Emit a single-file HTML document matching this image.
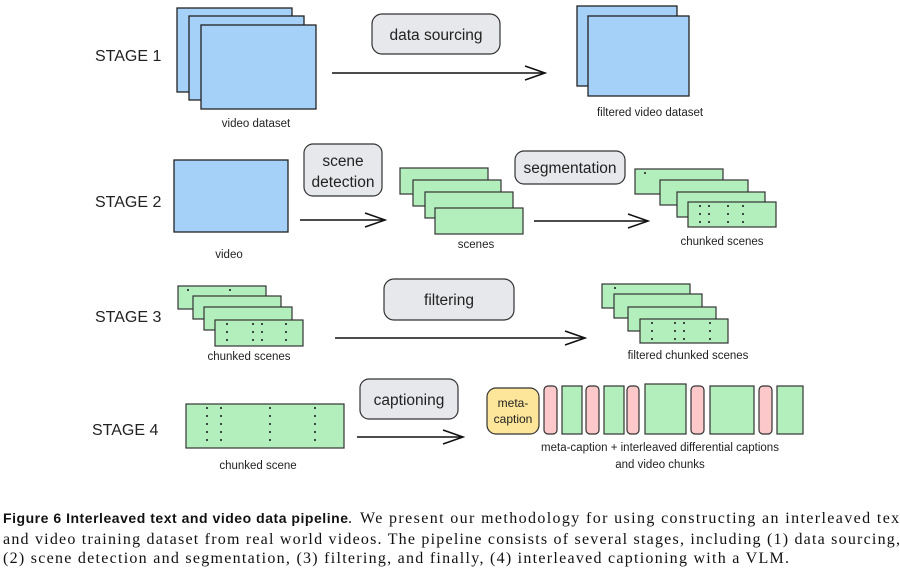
<!DOCTYPE html>
<html><head><style>
body{margin:0;background:#fff;width:900px;height:570px;overflow:hidden}
svg text{font-family:"Liberation Sans","DejaVu Sans",sans-serif;fill:#222}
svg text.s{font-family:"Liberation Serif",serif;fill:#111;font-size:16px}
svg text.b{font-weight:bold;fill:#111;font-size:14px}
</style></head><body>
<svg width="900" height="570" style="position:absolute;left:0;top:0">
<defs>
<marker id="a" markerWidth="24" markerHeight="16" refX="22" refY="8" orient="auto" markerUnits="userSpaceOnUse"><path d="M2,1 L22,8 L2,15" fill="none" stroke="#111" stroke-width="1.6"/></marker>
</defs>
<g font-size="16">
<text x="95" y="61">STAGE 1</text><text x="95" y="207">STAGE 2</text><text x="95" y="322">STAGE 3</text><text x="92" y="435">STAGE 4</text>
</g>
<g fill="#a5d0f8" stroke="#222" stroke-width="1.3">
<rect x="177" y="8" width="115" height="84"/><rect x="189" y="16" width="115" height="84"/><rect x="201" y="25" width="115" height="84"/>
<rect x="577" y="6" width="100" height="80"/><rect x="588" y="16" width="101" height="80"/>
<rect x="174" y="160" width="114" height="72"/>
</g>
<g font-size="11.5" text-anchor="middle">
<text x="256" y="127">video dataset</text><text x="650" y="116">filtered video dataset</text>
<text x="229" y="258">video</text><text x="476" y="248">scenes</text><text x="722" y="245">chunked scenes</text>
<text x="249" y="360">chunked scenes</text><text x="688" y="359">filtered chunked scenes</text>
<text x="258" y="469">chunked scene</text>
<text x="660" y="451">meta-caption + interleaved differential captions</text><text x="660" y="468">and video chunks</text>
</g>
<g fill="#e6e8eb" stroke="#333" stroke-width="1.2">
<rect x="372" y="14" width="128" height="40" rx="10"/>
<rect x="304" y="144" width="78" height="52" rx="9"/>
<rect x="515" y="151" width="110" height="33" rx="9"/>
<rect x="384" y="279" width="130" height="41" rx="10"/>
<rect x="360" y="379" width="98" height="40" rx="9"/>
</g>
<g font-size="15.5" text-anchor="middle">
<text x="436" y="40">data sourcing</text>
<text x="343" y="166">scene</text><text x="343" y="187">detection</text>
<text x="570" y="173">segmentation</text>
<text x="449" y="305">filtering</text>
<text x="409" y="405">captioning</text>
</g>
<g stroke="#111" stroke-width="1.6" marker-end="url(#a)">
<line x1="332" y1="73" x2="545" y2="73"/>
<line x1="300" y1="220" x2="385" y2="220"/>
<line x1="534" y1="221" x2="648" y2="221"/>
<line x1="335" y1="338" x2="585" y2="338"/>
<line x1="357" y1="437" x2="463" y2="437"/>
</g>
<g fill="#b2efbc" stroke="#333" stroke-width="1.2">
<rect x="400" y="168" width="88" height="26"/><rect x="413" y="180" width="88" height="26"/><rect x="425" y="192" width="88" height="26"/><rect x="435" y="208" width="88" height="26"/>
<rect x="635" y="169" width="88" height="25"/><rect x="660" y="180" width="88" height="25"/><rect x="677" y="192" width="88" height="25"/><rect x="688" y="202" width="88" height="25"/>
<rect x="178" y="286" width="88" height="23"/><rect x="193" y="296" width="88" height="23"/><rect x="204" y="307" width="88" height="23"/><rect x="215" y="320" width="88" height="26"/>
<rect x="602" y="284" width="88" height="24"/><rect x="614" y="294" width="88" height="24"/><rect x="628" y="307" width="88" height="24"/><rect x="640" y="319" width="88" height="24"/>
<rect x="186" y="404" width="158" height="44"/>
</g>
<g stroke="#111" stroke-width="1.5" stroke-dasharray="2,6">
<line x1="700" y1="205" x2="700" y2="226"/><line x1="709" y1="205" x2="709" y2="226"/><line x1="728" y1="205" x2="728" y2="226"/><line x1="743" y1="205" x2="743" y2="226"/>
<line x1="227" y1="323" x2="227" y2="345"/><line x1="253" y1="323" x2="253" y2="345"/><line x1="262" y1="323" x2="262" y2="345"/><line x1="286" y1="323" x2="286" y2="345"/>
<line x1="652" y1="322" x2="652" y2="342"/><line x1="675" y1="322" x2="675" y2="342"/><line x1="684" y1="322" x2="684" y2="342"/><line x1="710" y1="322" x2="710" y2="342"/>
<line x1="207" y1="407" x2="207" y2="447"/><line x1="221" y1="407" x2="221" y2="447"/><line x1="270" y1="407" x2="270" y2="447"/><line x1="315" y1="407" x2="315" y2="447"/>
<line x1="188" y1="289" x2="188" y2="296"/><line x1="230" y1="289" x2="230" y2="296"/><line x1="615" y1="287" x2="615" y2="294"/><line x1="645" y1="172" x2="645" y2="180"/>
</g>
<rect x="487" y="388" width="52" height="46" rx="9" fill="#fde69a" stroke="#333" stroke-width="1.2"/>
<text x="513" y="407" font-size="12" text-anchor="middle">meta-</text><text x="513" y="423" font-size="12" text-anchor="middle">caption</text>
<g fill="#fdc8ca" stroke="#333" stroke-width="1.2">
<rect x="544" y="386" width="13" height="48" rx="4"/><rect x="586" y="386" width="13" height="48" rx="4"/><rect x="627" y="386" width="12" height="48" rx="4"/><rect x="691" y="386" width="13" height="48" rx="4"/><rect x="759" y="386" width="13" height="48" rx="4"/>
</g>
<g fill="#b2efbc" stroke="#333" stroke-width="1.2">
<rect x="562" y="386" width="20" height="48"/><rect x="604" y="386" width="20" height="48"/><rect x="645" y="384" width="41" height="50"/><rect x="710" y="386" width="44" height="48"/><rect x="777" y="386" width="26" height="48"/>
</g>
<text class="b" x="3" y="523" textLength="345" lengthAdjust="spacing">Figure 6  Interleaved text and video data pipeline</text>
<text class="s" x="348" y="523">.</text>
<text class="s" x="360" y="523" textLength="545" lengthAdjust="spacing">We present our methodology for using constructing an interleaved text</text>
<text class="s" x="3" y="544" textLength="897" lengthAdjust="spacing">and video training dataset from real world videos. The pipeline consists of several stages, including (1) data sourcing,</text>
<text class="s" x="3" y="563" textLength="786" lengthAdjust="spacing">(2) scene detection and segmentation, (3) filtering, and finally, (4) interleaved captioning with a VLM.</text>
</svg>
</body></html>
